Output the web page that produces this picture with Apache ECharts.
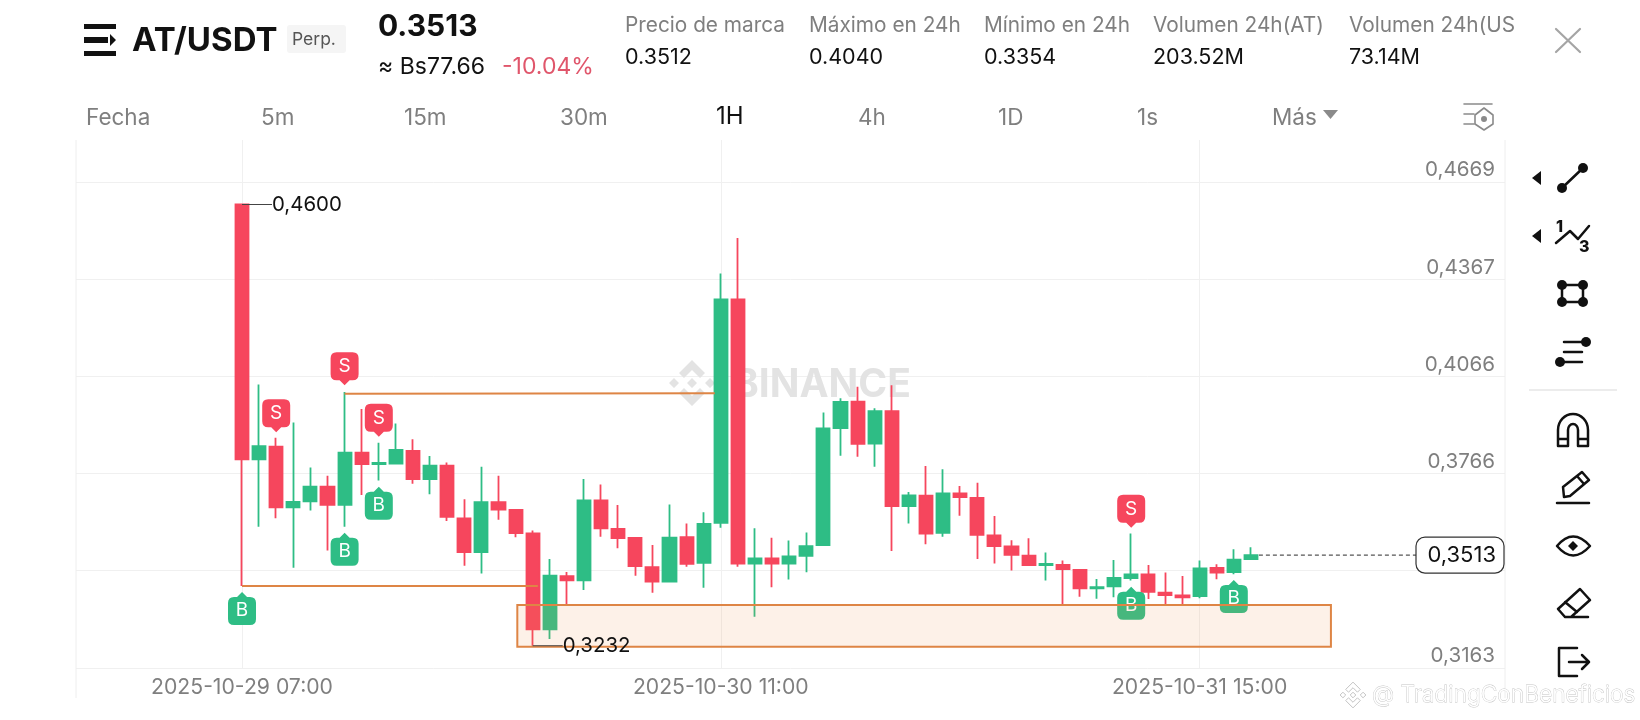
<!DOCTYPE html>
<html><head><meta charset="utf-8">
<script src="https://cdn.jsdelivr.net/npm/echarts@6/dist/echarts.min.js"></script>
<style>html,body{margin:0;padding:0;background:#fff}#c{width:1640px;height:720px}</style>
</head><body><div id="c"></div>
<script>
const timeLabels = ['2025-10-29 07:00','2025-10-30 11:00','2025-10-31 15:00'];
const timeIndex = [0,28,56];
const yTicks = [0.3163,0.3465,0.3766,0.4066,0.4367,0.4669];
const yLabels = [0.3163,0.3766,0.4066,0.4367,0.4669];
const opens = [.4600,.3810,.3849,.3661,.3680,.3725,.3669,.3831,.3795,.3797,.3836,.3749,.3790,.3627,.3522,.3677,.3653,.3580,.3283,.3448,.3435,.3683,.3594,.3566,.3476,.3431,.3569,.3489,.3613,.4306,.3487,.3503,.3487,.3511,.3544,.3907,.3989,.3859,.3959,.3665,.3697,.3582,.3704,.3690,.3574,.3540,.3511,.3482,.3483,.3467,.3410,.3416,.3442,.3453,.3397,.3388,.3386,.3473,.3460,.3501];
const closes = [.3810,.3851,.3661,.3678,.3725,.3669,.3831,.3795,.3799,.3839,.3749,.3790,.3632,.3522,.3677,.3654,.3581,.3283,.3449,.3435,.3683,.3596,.3566,.3479,.3431,.3567,.3486,.3610,.4306,.3487,.3503,.3487,.3509,.3541,.3906,.3988,.3858,.3959,.3665,.3698,.3580,.3704,.3693,.3576,.3541,.3514,.3482,.3486,.3470,.3410,.3414,.3442,.3453,.3399,.3389,.3382,.3472,.3459,.3499,.3513];
const lows = [.3417,.3601,.3627,.3474,.3651,.3527,.3601,.3699,.3744,.3797,.3734,.3702,.3619,.3480,.3456,.3623,.3568,.3232,.3253,.3358,.3405,.3570,.3534,.3449,.3396,.3431,.3477,.3412,.3598,.3477,.3322,.3413,.3437,.3460,.3544,.3821,.3818,.3787,.3526,.3611,.3547,.3570,.3635,.3501,.3487,.3465,.3482,.3434,.3358,.3384,.3378,.3382,.3434,.3377,.3355,.3357,.3379,.3438,.3454,.3501];
const highs = [.4600,.4042,.3877,.3924,.3785,.3759,.4019,.3966,.3861,.3921,.3872,.3820,.3800,.3686,.3787,.3759,.3653,.3589,.3501,.3461,.3749,.3732,.3668,.3566,.3544,.3670,.3611,.3646,.4386,.4496,.3596,.3567,.3558,.3583,.3955,.3999,.4035,.3968,.4040,.3709,.3789,.3779,.3727,.3737,.3634,.3559,.3565,.3521,.3496,.3467,.3439,.3498,.3580,.3482,.3459,.3448,.3496,.3485,.3531,.3537];
const sellMarks = [[2,.3894],[6,.4040],[8,.3880],[52,.3598]];
const buyMarks = [[0,.3399],[6,.3582],[8,.3725],[52,.3415],[58,.3436]];
const zoneLines = [[0,.3417,17.3,.3417],[6,.4013,27.65,.4015]];
const zoneBox = [[16.1,.3358,63.68,.3229]];
const extremes = [[0,.4600,'0,4600'],[17,.3232,'0,3232']];
const lastIndex = 59;
const lastPrice = 0.3513;

const GREEN='#2EBD85', RED='#F6465D', GREY='#7f7f7f', FONT='Inter, "Noto Sans", sans-serif';
const candles = opens.map((o,i)=>[i,o,closes[i],lows[i],highs[i]]);
const fmt = v => v.toFixed(4).replace('.',',');

const txtStyle=(text,size,color,weight,align)=>({text,fontSize:size,fill:color,fontWeight:weight||400,fontFamily:FONT,textAlign:align||'left',textVerticalAlign:'middle',align:align||'left',verticalAlign:'middle'});
const txt=(x,y,text,size,color,weight)=>({type:'text',x,y,style:txtStyle(text,size,color,weight)});
const stroke=(d,w,col)=>({type:'path',shape:{pathData:d},style:{fill:'none',stroke:col||'#111',lineWidth:w||2.5,lineCap:'round',lineJoin:'round'}});
const fill=(d,col)=>({type:'path',shape:{pathData:d},style:{fill:col||'#111'}});
const dot=(x,y,r)=>({type:'circle',shape:{cx:x,cy:y,r:r||5},style:{fill:'#111'}});

const logo=(cx,cy,s)=>{const p=(a)=>a.map(([x,y],i)=>(i?'L':'M')+(cx+x*s)+','+(cy+y*s)).join('')+'Z';
 return [p([[0,-23],[13,-10],[8,-5],[0,-13],[-8,-5],[-13,-10]]),p([[0,23],[13,10],[8,5],[0,13],[-8,5],[-13,10]]),p([[-23,0],[-18,-5],[-13,0],[-18,5]]),p([[23,0],[18,-5],[13,0],[18,5]]),p([[0,-5],[5,0],[0,5],[-5,0]])].join('');};

const backdrop=[
 {type:'line',shape:{x1:76,y1:140,x2:76,y2:698},style:{stroke:'#eeeeee',lineWidth:1}},
 {type:'line',shape:{x1:1505,y1:140,x2:1505,y2:698},style:{stroke:'#eeeeee',lineWidth:1}},
 fill(logo(692,383,1),'#e3e3e3'),
 txt(733,385,'BINANCE',39,'#e3e3e3',700)
];
const chrome=[
 fill('M84,24H116V29H84ZM84,37H108V43H84ZM110,34L116,40L110,46ZM84,51H116V56H84Z'),
 txt(132,41,'AT/USDT',33,'#111',700),
 {type:'rect',shape:{x:287,y:25,width:59,height:28,r:3},style:{fill:'#f5f5f5'}},
 txt(292,40,'Perp.',17.5,'#555',400),
 txt(378,27,'0.3513',30,'#111',700),
 txt(378,67,'≈ Bs77.66',23,'#111',400),
 txt(502,67,'-10.04%',23,'#e0566b',400)
];
[['Precio de marca','0.3512',625],['Máximo en 24h','0.4040',809],['Mínimo en 24h','0.3354',984],['Volumen 24h(AT)','203.52M',1153],['Volumen 24h(USDT)','73.14M',1349]].forEach(a=>{
 chrome.push(txt(a[2],26,a[0],20.8,GREY,400)); chrome.push(txt(a[2],58,a[1],21.5,'#111',400));
});
chrome.push({type:'rect',shape:{x:1515,y:10,width:36,height:60},style:{fill:'#fff'}});
chrome.push(stroke('M1556,29L1580,52M1580,29L1556,52',2.2,'#a5a5a5'));
[['Fecha',86],['5m',261],['15m',404],['30m',560],['4h',858],['1D',998],['1s',1137],['Más',1272]].forEach(a=>chrome.push(txt(a[1],118,a[0],22.5,GREY,400)));
chrome.push(txt(716,117,'1H',24,'#111',400));
chrome.push(fill('M1323,110H1338L1330.5,119Z','#8a8a8a'));
chrome.push(stroke('M1464,104H1492M1464,114H1474M1464,124H1474',1.6,'#8a8a8a'));
chrome.push(stroke('M1484,108L1493,115V124L1484,130L1475,124V115Z',1.6,'#8a8a8a'));
chrome.push(fill('M1484,116a3,3 0 1,0 .01,0Z','#8a8a8a'));
chrome.push(fill('M1541,171V185L1532,178Z'),fill('M1541,229V243L1532,236Z'));
chrome.push(stroke('M1562,188L1583,168'),dot(1562,188),dot(1583,168));
chrome.push(stroke('M1556,243L1570,231L1578,239L1589,226'),txt(1556,227,'1',16,'#111',800),txt(1579,247,'3',16,'#111',800));
chrome.push(stroke('M1562,285H1583V302H1562Z'),dot(1562,285),dot(1583,285),dot(1562,302),dot(1583,302));
chrome.push(stroke('M1564,342H1585M1564,352H1582M1560,362H1582'),dot(1586,342),dot(1560,362));
chrome.push({type:'line',shape:{x1:1529,y1:390,x2:1617,y2:390},style:{stroke:'#e6e6e6',lineWidth:1.5}});
chrome.push(stroke('M1558,446V430A15,16 0 0 1 1588,430V446H1578V430A5,6 0 0 0 1568,430V446ZM1558,439H1568M1578,439H1588'));
chrome.push(stroke('M1564,497L1563,487L1582,472L1589,480L1570,496ZM1577,476L1584,484M1557,503H1589'));
chrome.push(stroke('M1557,546Q1573,527 1590,546Q1573,565 1557,546Z'),fill('M1573,541L1578,546L1573,551L1568,546Z'));
chrome.push(stroke('M1558,609L1580,589L1590,600L1571,617H1565ZM1565,602L1577,612M1565,617H1588'));
chrome.push(stroke('M1577,648H1559V676H1577M1569,662H1589M1582,655L1589,662L1582,669'));
chrome.push({type:'path',shape:{pathData:logo(1353,695,.56)},style:{fill:'#fff',stroke:'#c4c4c4',lineWidth:1}});
chrome.push({type:'text',x:1372,y:695,style:Object.assign(txtStyle('@ TradingConBeneficios',22.8,'#fff',300),{stroke:'#c4c4c4',lineWidth:.8})});

const option={
 animation:false,
 backgroundColor:'#fff',
 grid:{left:76,top:140,width:1429,height:528,containLabel:false},
 xAxis:{type:'value',min:-9.708,max:73.86,
  axisLine:{show:false},axisTick:{show:false,customValues:timeIndex},
  splitLine:{show:true,lineStyle:{color:'#f0f0f0',width:1}},
  axisLabel:{customValues:timeIndex,margin:9,color:GREY,fontSize:21.2,fontFamily:FONT,hideOverlap:false,
   formatter:v=>timeLabels[timeIndex.indexOf(v)]||''}},
 yAxis:{type:'value',position:'right',min:0.3163,max:0.48,
  axisLine:{show:false},axisTick:{show:false,customValues:yTicks},
  splitLine:{show:true,lineStyle:{color:'#f0f0f0',width:1}},
  axisLabel:{inside:true,customValues:yLabels,margin:10,color:GREY,fontSize:20.6,fontFamily:FONT,verticalAlign:'bottom',align:'right',padding:[0,0,1.5,0],
   formatter:v=>fmt(v)}},
 series:[
  {type:'custom',name:'backdrop',coordinateSystem:'none',z:1,silent:true,clip:false,data:[[0]],renderItem:()=>({type:'group',children:backdrop})},
  {type:'candlestick',name:'AT/USDT',z:2,barWidth:13.6,data:candles,
   itemStyle:{color:GREEN,color0:RED,borderColor:GREEN,borderColor0:RED,borderWidth:1.8}},
  {type:'scatter',name:'S',z:3,data:sellMarks,symbol:'path://M6,0H22Q28,0 28,6V22Q28,28 22,28H19L14,33L9,28H6Q0,28 0,22V6Q0,0 6,0Z',symbolSize:[28,33],symbolOffset:[0,-16.5],
   itemStyle:{color:RED,opacity:1},label:{show:true,position:'inside',offset:[0,-2],formatter:'S',color:'#fff',fontSize:19,fontFamily:FONT}},
  {type:'scatter',name:'B',z:3,data:buyMarks,symbol:'path://M14,0L19,5H22Q28,5 28,11V27Q28,33 22,33H6Q0,33 0,27V11Q0,5 6,5H9Z',symbolSize:[28,33],symbolOffset:[0,16.5],
   itemStyle:{color:GREEN,opacity:1},label:{show:true,position:'inside',offset:[0,2],formatter:'B',color:'#fff',fontSize:19,fontFamily:FONT}},
  {type:'custom',name:'zone',z:4,data:zoneBox,clip:false,renderItem:(p,api)=>{
    const a=api.coord([api.value(0),api.value(1)]),b=api.coord([api.value(2),api.value(3)]);
    return {type:'rect',shape:{x:a[0],y:a[1],width:b[0]-a[0],height:b[1]-a[1]},style:{fill:'rgba(240,150,80,0.13)',stroke:'#DE8545',lineWidth:2}};
   },encode:{x:[0,2],y:[1,3]}},
  {type:'custom',name:'lines',z:4,data:zoneLines,clip:false,renderItem:(p,api)=>{
    const a=api.coord([api.value(0),api.value(1)]),b=api.coord([api.value(2),api.value(3)]);
    return {type:'line',shape:{x1:a[0],y1:a[1],x2:b[0],y2:b[1]},style:{stroke:'#DE8545',lineWidth:2}};
   },encode:{x:[0,2],y:[1,3]}},
  {type:'custom',name:'extremes',z:5,data:extremes,clip:false,renderItem:(p,api)=>{
    const a=api.coord([api.value(0),api.value(1)]);
    return {type:'group',children:[
     {type:'line',shape:{x1:a[0],y1:a[1],x2:a[0]+30,y2:a[1]},style:{stroke:'#444',lineWidth:1}},
     {type:'text',x:a[0]+30,y:a[1],style:txtStyle(extremes[p.dataIndex][2],20.4,'#111')}
    ]};
   },encode:{x:0,y:1}},
  {type:'custom',name:'last',z:5,data:[[lastIndex,lastPrice]],clip:false,renderItem:(p,api)=>{
    const a=api.coord([api.value(0),api.value(1)]);
    return {type:'group',children:[
     {type:'line',shape:{x1:a[0]+8,y1:a[1],x2:1416,y2:a[1]},style:{stroke:'#555',lineWidth:1.2,lineDash:[4,3]}},
     {type:'rect',shape:{x:1416,y:a[1]-18,width:88,height:36,r:9},style:{fill:'#fff',stroke:'#333',lineWidth:1.2}},
     {type:'text',x:1496,y:a[1],style:txtStyle(fmt(api.value(1)),22,'#111',400,'right')}
    ]};
   },encode:{x:0,y:1}},
  {type:'custom',name:'chrome',coordinateSystem:'none',z:10,silent:true,clip:false,data:[[0]],renderItem:()=>({type:'group',children:chrome})}
 ]
};
const chart=echarts.init(document.getElementById('c'),null,{renderer:'canvas'});
chart.setOption(option);
</script></body></html>
